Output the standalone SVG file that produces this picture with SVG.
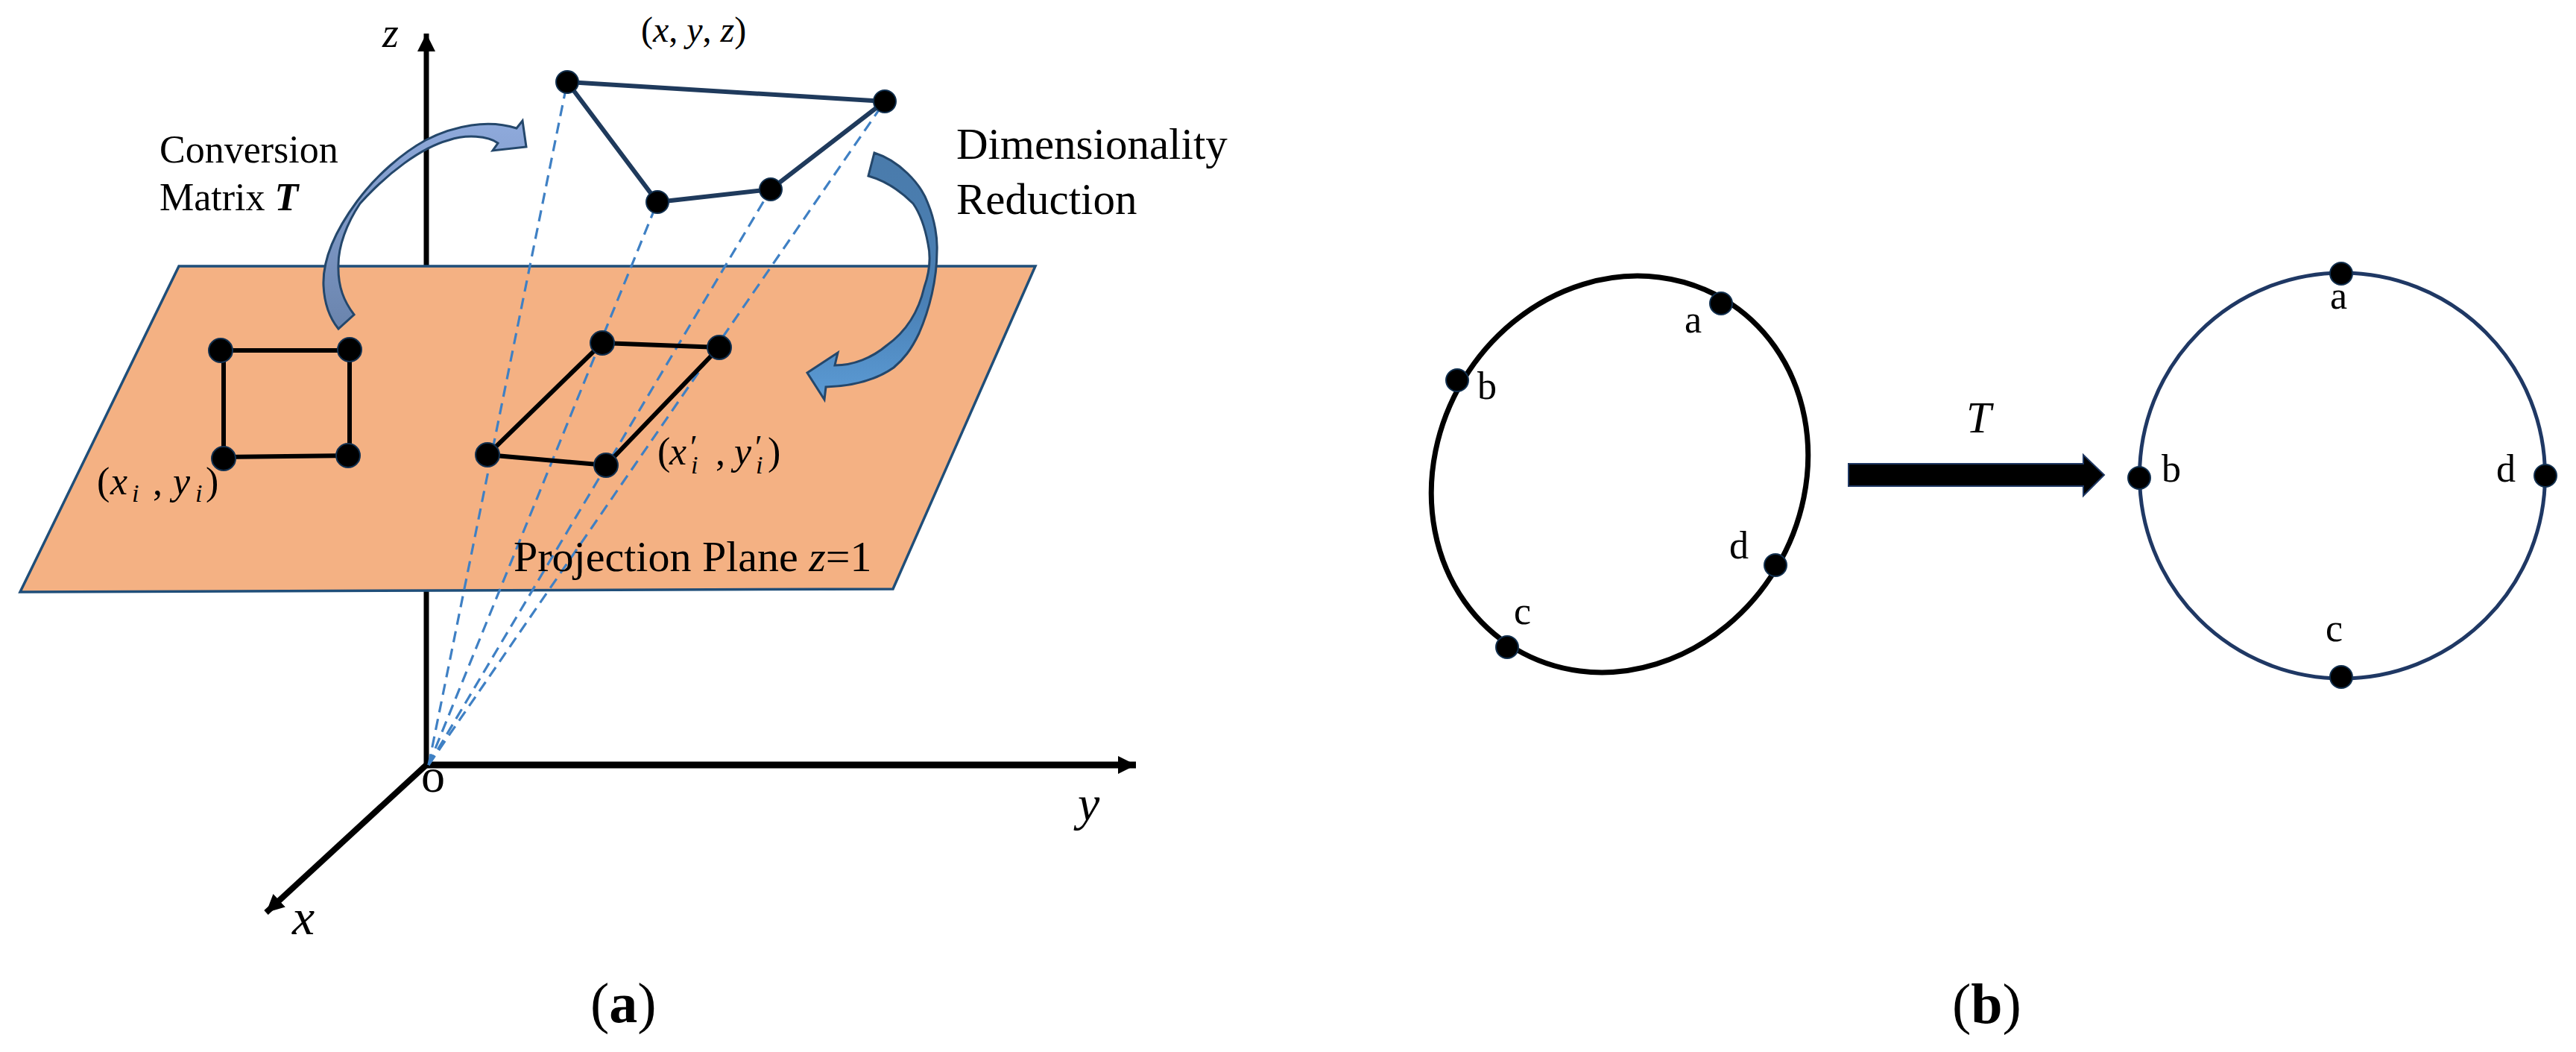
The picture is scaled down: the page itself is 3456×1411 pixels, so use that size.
<svg xmlns="http://www.w3.org/2000/svg" width="3456" height="1411" viewBox="0 0 3456 1411">
<style>
text{font-family:"Liberation Serif","Times New Roman",serif;fill:#000}
.it{font-style:italic}
.dot{fill:#000;stroke:#12304f;stroke-width:2}
.blk{fill:none;stroke:#000;stroke-width:6}
.nvy{fill:none;stroke:#1f3a5c;stroke-width:6}
.dash{stroke:#3f80c4;stroke-width:3.2;stroke-dasharray:15 9;fill:none}
.lbl{font-size:52px}
.sub{font-size:34px;font-style:italic}
.prime{font-size:44px;font-style:normal}
</style>
<defs>
<marker id="head" markerUnits="userSpaceOnUse" markerWidth="28" markerHeight="30" refX="24" refY="15" orient="auto"><path d="M0 3L24 15L0 27Z" fill="#000"/></marker>
<linearGradient id="g1" x1="0" y1="1" x2="0" y2="0"><stop offset="0" stop-color="#6a84ad"/><stop offset="1" stop-color="#8faadc"/></linearGradient>
<linearGradient id="g2" x1="0" y1="0" x2="0" y2="1"><stop offset="0" stop-color="#4a7bab"/><stop offset="0.6" stop-color="#4a80b5"/><stop offset="1" stop-color="#5b9bd5"/></linearGradient>
</defs>
<rect width="3456" height="1411" fill="#fff"/>
<g id="connectors">
<line x1="572" y1="1028" x2="572" y2="45" stroke="#000" stroke-width="7" marker-end="url(#head)"/>
<line x1="572" y1="1026" x2="1524" y2="1026" stroke="#000" stroke-width="9" marker-end="url(#head)"/>
<line x1="573" y1="1025" x2="357" y2="1224" stroke="#000" stroke-width="8" marker-end="url(#head)"/>
</g>
<g id="plane"><path d="M240 357H1389L1198 790L27 794Z" fill="#f4b183" stroke="#1f4e79" stroke-width="3.5"/></g>
<g id="projection-rays">
<line class="dash" x1="575" y1="1026" x2="761" y2="110"/>
<line class="dash" x1="575" y1="1026" x2="882" y2="271"/>
<line class="dash" x1="575" y1="1026" x2="1034" y2="254"/>
<line class="dash" x1="575" y1="1026" x2="1187" y2="136"/>
</g>
<g id="shape-xyz">
<path class="nvy" d="M761 110L1187 136L1034 254L882 271Z"/>
<circle class="dot" cx="761" cy="110" r="15"/><circle class="dot" cx="1187" cy="136" r="15"/><circle class="dot" cx="882" cy="271" r="15"/><circle class="dot" cx="1034" cy="254" r="15"/>
</g>
<g id="shape-xi-yi">
<path class="blk" d="M295 470H469V611L300 613V470Z"/>
<circle class="dot" cx="296" cy="470" r="16"/><circle class="dot" cx="469" cy="469" r="16"/><circle class="dot" cx="300" cy="615" r="16"/><circle class="dot" cx="467" cy="611" r="16"/>
</g>
<g id="shape-xi-yi-prime">
<path class="blk" d="M808 460L965 466L813 624L654 610Z"/>
<circle class="dot" cx="808" cy="460" r="16"/><circle class="dot" cx="965" cy="466" r="16"/><circle class="dot" cx="654" cy="610" r="16"/><circle class="dot" cx="813" cy="624" r="16"/>
</g>
<g id="arrow-conversion"><path d="M454 441C441 425 435 405 434 383C433 358 442 320 479 270C505 235 540 205 571 188C610 168 655 160 693 172L701 162L706 197L661 202L668 192C655 182 625 180 602 188C565 198 520 232 483 273C465 300 454 330 454 355C453 385 462 405 475 422Z" fill="url(#g1)" stroke="#24476b" stroke-width="3"/></g>
<g id="arrow-reduction"><path d="M1173 205C1205 215 1235 245 1245 273C1254 295 1258 320 1257 337C1257 375 1247 415 1233 447C1222 470 1212 482 1199 493C1172 512 1140 518 1108 519L1106 536L1083 500L1124 473L1120 490C1145 490 1170 480 1190 463C1215 445 1232 420 1240 385C1247 365 1249 345 1245 327C1240 300 1232 283 1225 273C1210 258 1190 243 1165 236Z" fill="url(#g2)" stroke="#24476b" stroke-width="3"/></g>
<g id="labels-a">
<text x="513" y="63" class="it" font-size="56">z</text>
<text x="860" y="56" font-size="48">(<tspan class="it">x</tspan>, <tspan class="it">y</tspan>, <tspan class="it">z</tspan>)</text>
<text x="214" y="218" font-size="52">Conversion</text>
<text x="214" y="282" font-size="52">Matrix <tspan font-style="italic" font-weight="bold">T</tspan></text>
<text x="1283" y="213" font-size="59">Dimensionality</text>
<text x="1283" y="287" font-size="59">Reduction</text>
<text y="663" class="lbl"><tspan x="130">(</tspan><tspan x="148" class="it">x</tspan><tspan x="177" y="673" class="sub">i</tspan><tspan x="205" y="663">,</tspan><tspan x="232" class="it">y</tspan><tspan x="262" y="673" class="sub">i</tspan><tspan x="276" y="663">)</tspan></text>
<text y="623" class="lbl"><tspan x="882">(</tspan><tspan x="898" class="it">x</tspan><tspan x="926" y="614" class="prime">′</tspan><tspan x="927" y="635" class="sub">i</tspan><tspan x="960" y="623">,</tspan><tspan x="985" class="it">y</tspan><tspan x="1013" y="614" class="prime">′</tspan><tspan x="1014" y="635" class="sub">i</tspan><tspan x="1030" y="623">)</tspan></text>
<text x="689" y="766" font-size="58">Projection Plane <tspan class="it">z</tspan>=1</text>
<text x="565" y="1062" font-size="64">o</text>
<text x="1446" y="1100" class="it" font-size="66">y</text>
<text x="392" y="1253" class="it" font-size="68">x</text>
<text x="792" y="1371" font-size="76">(<tspan font-weight="bold">a</tspan>)</text>
</g>
<g id="circle-before">
<ellipse cx="2173" cy="636" rx="245" ry="273" transform="rotate(31 2173 636)" fill="none" stroke="#000" stroke-width="7"/>
<circle class="dot" cx="2309" cy="407" r="15"/><circle class="dot" cx="1955" cy="510" r="15"/><circle class="dot" cx="2382" cy="758" r="15"/><circle class="dot" cx="2022" cy="868" r="15"/>
<text x="2260" y="446" class="lbl">a</text><text x="1982" y="535" class="lbl">b</text><text x="2320" y="749" class="lbl">d</text><text x="2031" y="837" class="lbl">c</text>
</g>
<g id="arrow-T">
<path d="M2480 622H2795V610L2823 637L2795 665V652H2480Z" fill="#000" stroke="#1f3864" stroke-width="2"/>
<text x="2638" y="580" class="it" font-size="60">T</text>
</g>
<g id="circle-after">
<circle cx="3142.5" cy="638" r="272" fill="none" stroke="#1f3864" stroke-width="5"/>
<circle class="dot" cx="3141" cy="367" r="15"/><circle class="dot" cx="2870" cy="641" r="15"/><circle class="dot" cx="3415" cy="638" r="15"/><circle class="dot" cx="3141" cy="908" r="15"/>
<text x="3126" y="414" class="lbl">a</text><text x="2900" y="646" class="lbl">b</text><text x="3349" y="646" class="lbl">d</text><text x="3120" y="860" class="lbl">c</text>
</g>
<text id="label-b" x="2619" y="1372" font-size="76">(<tspan font-weight="bold">b</tspan>)</text>
</svg>
